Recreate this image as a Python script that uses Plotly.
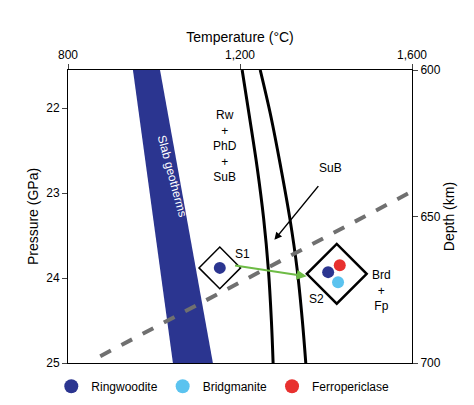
import plotly.graph_objects as go

slab_T_top = [951, 1014]; slab_T_bot = [1044, 1137]
curve1_T = [1205, 1222, 1240, 1255, 1266, 1273, 1277]
curve2_T = [1247, 1272, 1295, 1316, 1333, 1345, 1353]
curve_P = [21.55, 22.1, 22.7, 23.3, 23.9, 24.5, 25.0]
dash_T = [875, 1600]; dash_P = [24.92, 22.98]
mineral_names = ["Ringwoodite", "Bridgmanite", "Ferropericlase"]
mineral_colors = ["#2b3590", "#5bc3ef", "#e8312f"]

fig = go.Figure()
fig.add_trace(go.Scatter(x=[slab_T_top[0], slab_T_top[1], slab_T_bot[1], slab_T_bot[0]], y=[21.55, 21.55, 25, 25],
    fill="toself", fillcolor="#2b3590", line=dict(width=0), mode="lines", showlegend=False, hoverinfo="skip"))
for c in (curve1_T, curve2_T):
    fig.add_trace(go.Scatter(x=c, y=curve_P, mode="lines", line=dict(color="black", width=3), line_shape="spline", showlegend=False))
fig.add_trace(go.Scatter(x=dash_T, y=dash_P, mode="lines", line=dict(color="#707070", width=4, dash="dash"), showlegend=False))
fig.add_trace(go.Scatter(x=[1153], y=[23.88], mode="markers", marker=dict(symbol="diamond-open", size=32, color="black", line=dict(width=1.5)), showlegend=False))
fig.add_trace(go.Scatter(x=[1425], y=[23.95], mode="markers", marker=dict(symbol="diamond-open", size=46, color="black", line=dict(width=2.5)), showlegend=False))
fig.add_trace(go.Scatter(x=[1153, 1405, 1432, 1428], y=[23.88, 23.93, 23.85, 24.05], mode="markers",
    marker=dict(size=12, color=[mineral_colors[0], mineral_colors[0], mineral_colors[2], mineral_colors[1]]), showlegend=False))
for n, c in zip(mineral_names, mineral_colors):
    fig.add_trace(go.Scatter(x=[None], y=[None], mode="markers", name=n, marker=dict(size=14, color=c)))
fig.add_trace(go.Scatter(x=[None], y=[None], yaxis="y2", showlegend=False))

fig.add_annotation(x=1355, y=23.98, ax=1185, ay=23.85, axref="x", ayref="y", text="", showarrow=True,
    arrowhead=2, arrowcolor="#6dbb45", arrowwidth=2)
fig.add_annotation(x=1280, y=23.55, ax=1385, ay=22.9, axref="x", ayref="y", text="", showarrow=True,
    arrowhead=2, arrowcolor="black", arrowwidth=1.5)
for t, x, y in [("Rw<br>+<br>PhD<br>+<br>SuB", 1165, 22.45), ("SuB", 1410, 22.7), ("S1", 1205, 23.72), ("S2", 1378, 24.25),
                ("Brd<br>+<br>Fp", 1530, 24.15)]:
    fig.add_annotation(x=x, y=y, text=t, showarrow=False, font=dict(size=12, color="black"))
fig.add_annotation(x=1042, y=22.8, text="Slab geotherms", textangle=75, showarrow=False, font=dict(size=12, color="white"))

fig.update_layout(width=474, height=405, margin=dict(l=60, r=70, t=62, b=43), plot_bgcolor="white", paper_bgcolor="white",
    font=dict(family="Liberation Sans, Arial", size=12, color="black"), showlegend=True,
    xaxis=dict(range=[800, 1600], side="top", tickvals=[800, 1200, 1600], ticktext=["800", "1,200", "1,600"],
               title=dict(text="Temperature (°C)", standoff=2), showline=True, mirror=True, linecolor="black", ticks="outside", showgrid=False, zeroline=False),
    yaxis=dict(range=[25, 21.55], tickvals=[22, 23, 24, 25], title=dict(text="Pressure (GPa)", standoff=4), showline=True, mirror=True, linecolor="black",
               ticks="outside", showgrid=False, zeroline=False, automargin=False),
    yaxis2=dict(range=[700, 600], overlaying="y", side="right", tickvals=[600, 650, 700], title=dict(text="Depth (km)", standoff=4), ticks="outside",
                showgrid=False, zeroline=False, linecolor="black", automargin=False),
    legend=dict(orientation="h", x=0.45, xanchor="center", y=-0.03, yanchor="top", font=dict(size=12), entrywidth=0, itemwidth=30,
                tracegroupgap=0))
fig.write_html("out.html")
